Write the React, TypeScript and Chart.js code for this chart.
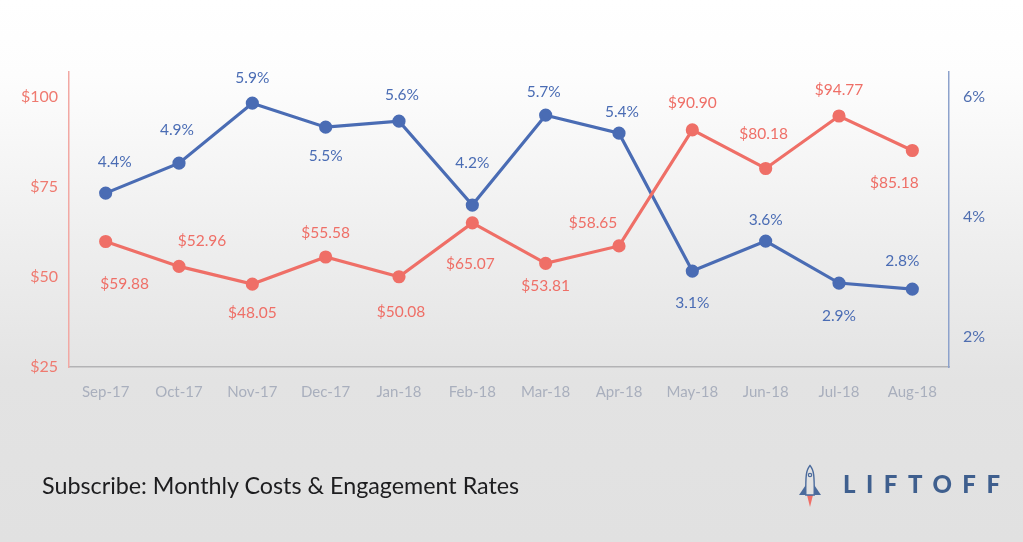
import React, { useEffect, useRef } from "react";
import { Chart, registerables } from "chart.js";

Chart.register(...registerables);

// Monthly data
const months = [
  "Sep-17", "Oct-17", "Nov-17", "Dec-17", "Jan-18", "Feb-18",
  "Mar-18", "Apr-18", "May-18", "Jun-18", "Jul-18", "Aug-18",
];
const monthlyCosts = [59.88, 52.96, 48.05, 55.58, 50.08, 65.07, 53.81, 58.65, 90.9, 80.18, 94.77, 85.18];
const engagementRates = [4.4, 4.9, 5.9, 5.5, 5.6, 4.2, 5.7, 5.4, 3.1, 3.6, 2.9, 2.8];

// Axis ticks
const costTicks = [25, 50, 75, 100];
const rateTicks = [2, 4, 6];

// Where each value label sits relative to its point: [dx, dy]
const costLabelPlacement: [number, number][] = [
  [19, 42], [23, -25], [0, 29], [0, -24], [2, 35], [-2, 41],
  [0, 23], [-26, -23], [0, -27], [-2, -34], [0, -26], [-18, 33],
];
const rateLabelPlacement: [number, number][] = [
  [9, -31], [-2, -33], [0, -25], [0, 29], [3, -26], [0, -42],
  [-2, -23], [3, -21], [0, 32], [0, -21], [0, 33], [-10, -28],
];

const RED = "#ef6f67";
const BLUE = "#4a6cb4";

const valueLabels = {
  id: "valueLabels",
  afterDatasetsDraw(chart: any) {
    const { ctx } = chart;
    chart.data.datasets.forEach((ds: any, i: number) => {
      const meta = chart.getDatasetMeta(i);
      const placement = i === 0 ? costLabelPlacement : rateLabelPlacement;
      ctx.save();
      ctx.font = "15.5px Lato";
      ctx.fillStyle = ds.borderColor;
      ctx.textAlign = "center";
      ctx.textBaseline = "middle";
      meta.data.forEach((pt: any, j: number) => {
        const v = ds.data[j] as number;
        const text = i === 0 ? "$" + v.toFixed(2) : v.toFixed(1) + "%";
        const [dx, dy] = placement[j];
        ctx.fillText(text, pt.x + dx, pt.y + dy);
      });
      ctx.restore();
    });
  },
};

function Rocket() {
  return (
    <svg
      width={26}
      height={44}
      viewBox="0 0 26 44"
      style={{ position: "absolute", left: 797, top: 464 }}
    >
      <path d="M10 31 L16 31 L13 43 Z" fill="#ef6f67" />
      <path
        d="M13 1.5 C9 6, 8.6 12, 8.8 31 L17.2 31 C17.4 12, 17 6, 13 1.5 Z"
        fill="none"
        stroke="#4a6a9c"
        strokeWidth={1.4}
      />
      <circle cx={13} cy={11} r={1.7} fill="none" stroke="#4a6a9c" strokeWidth={1.2} />
      <path d="M8.8 21 L2 31 L8.8 31 Z" fill="#4a6a9c" />
      <path d="M17.2 21 L24 31 L17.2 31 Z" fill="#4a6a9c" />
    </svg>
  );
}

export default function App() {
  const canvasRef = useRef<HTMLCanvasElement | null>(null);

  useEffect(() => {
    if (!canvasRef.current) return;
    const chart = new Chart(canvasRef.current, {
      type: "line",
      data: {
        labels: months,
        datasets: [
          {
            label: "Monthly Costs",
            data: monthlyCosts,
            yAxisID: "yCost",
            borderColor: RED,
            backgroundColor: RED,
            borderWidth: 3.2,
            pointRadius: 5,
            pointBackgroundColor: RED,
            pointBorderColor: RED,
            tension: 0,
          },
          {
            label: "Engagement Rate",
            data: engagementRates,
            yAxisID: "yRate",
            borderColor: BLUE,
            backgroundColor: BLUE,
            borderWidth: 3.2,
            pointRadius: 5,
            pointBackgroundColor: BLUE,
            pointBorderColor: BLUE,
            tension: 0,
          },
        ],
      },
      options: {
        animation: false,
        responsive: false,
        maintainAspectRatio: false,
        devicePixelRatio: 1,
        layout: { padding: { top: 72, bottom: 135, left: 0, right: 0 } },
        plugins: {
          legend: { display: false },
          tooltip: { enabled: false },
        },
        scales: {
          x: {
            offset: true,
            grid: { display: false, drawTicks: false },
            border: { display: true, color: "#b3b3b5", width: 1.5 },
            ticks: {
              color: "#a9afbd",
              font: { family: "Lato", size: 15 },
              padding: 16,
              maxRotation: 0,
              autoSkip: false,
            },
            afterFit: (s: any) => {
              s.height = 40;
            },
          },
          yCost: {
            position: "left",
            min: 25,
            max: 107,
            grid: { display: false, drawTicks: false },
            border: { display: true, color: "#f2a8a3", width: 1.5 },
            ticks: {
              color: "#ef7a70",
              font: { family: "Lato", size: 16 },
              padding: 11,
              callback: (v: any) => "$" + v,
            },
            afterBuildTicks: (s: any) => {
              s.ticks = costTicks.map((value) => ({ value }));
            },
            afterFit: (s: any) => {
              s.width = 69;
            },
          },
          yRate: {
            position: "right",
            min: 1.5,
            max: 6.42,
            grid: { display: false, drawTicks: false },
            border: { display: true, color: "#8da2cc", width: 1.5 },
            ticks: {
              color: "#4f6eb0",
              font: { family: "Lato", size: 16 },
              padding: 14,
              callback: (v: any) => v + "%",
            },
            afterBuildTicks: (s: any) => {
              s.ticks = rateTicks.map((value) => ({ value }));
            },
            afterFit: (s: any) => {
              s.width = 74;
            },
          },
        },
      },
      plugins: [valueLabels],
    });
    return () => chart.destroy();
  }, []);

  return (
    <div
      style={{
        position: "fixed",
        left: 0,
        top: 0,
        width: 1023,
        height: 542,
        overflow: "hidden",
        background:
          "linear-gradient(to bottom, #ffffff 0%, #fdfdfd 14%, #eeeeee 45%, #e3e3e3 70%, #e1e1e1 100%)",
      }}
    >
      <canvas
        ref={canvasRef}
        width={1023}
        height={542}
        style={{ position: "absolute", left: 0, top: 0, width: 1023, height: 542 }}
      />
      <div
        style={{
          position: "absolute",
          left: 42,
          top: 471,
          fontFamily: "Lato",
          fontSize: 23.3,
          color: "#1d1d1f",
          whiteSpace: "nowrap",
          lineHeight: "28px",
        }}
      >
        Subscribe: Monthly Costs &amp; Engagement Rates
      </div>
      <Rocket />
      <div
        style={{
          position: "absolute",
          left: 843,
          top: 470,
          fontFamily: "Lato",
          fontWeight: 900,
          fontSize: 24,
          letterSpacing: "10.5px",
          color: "#3f5f8e",
          whiteSpace: "nowrap",
          lineHeight: "28px",
        }}
      >
        LIFTOFF
      </div>
    </div>
  );
}
